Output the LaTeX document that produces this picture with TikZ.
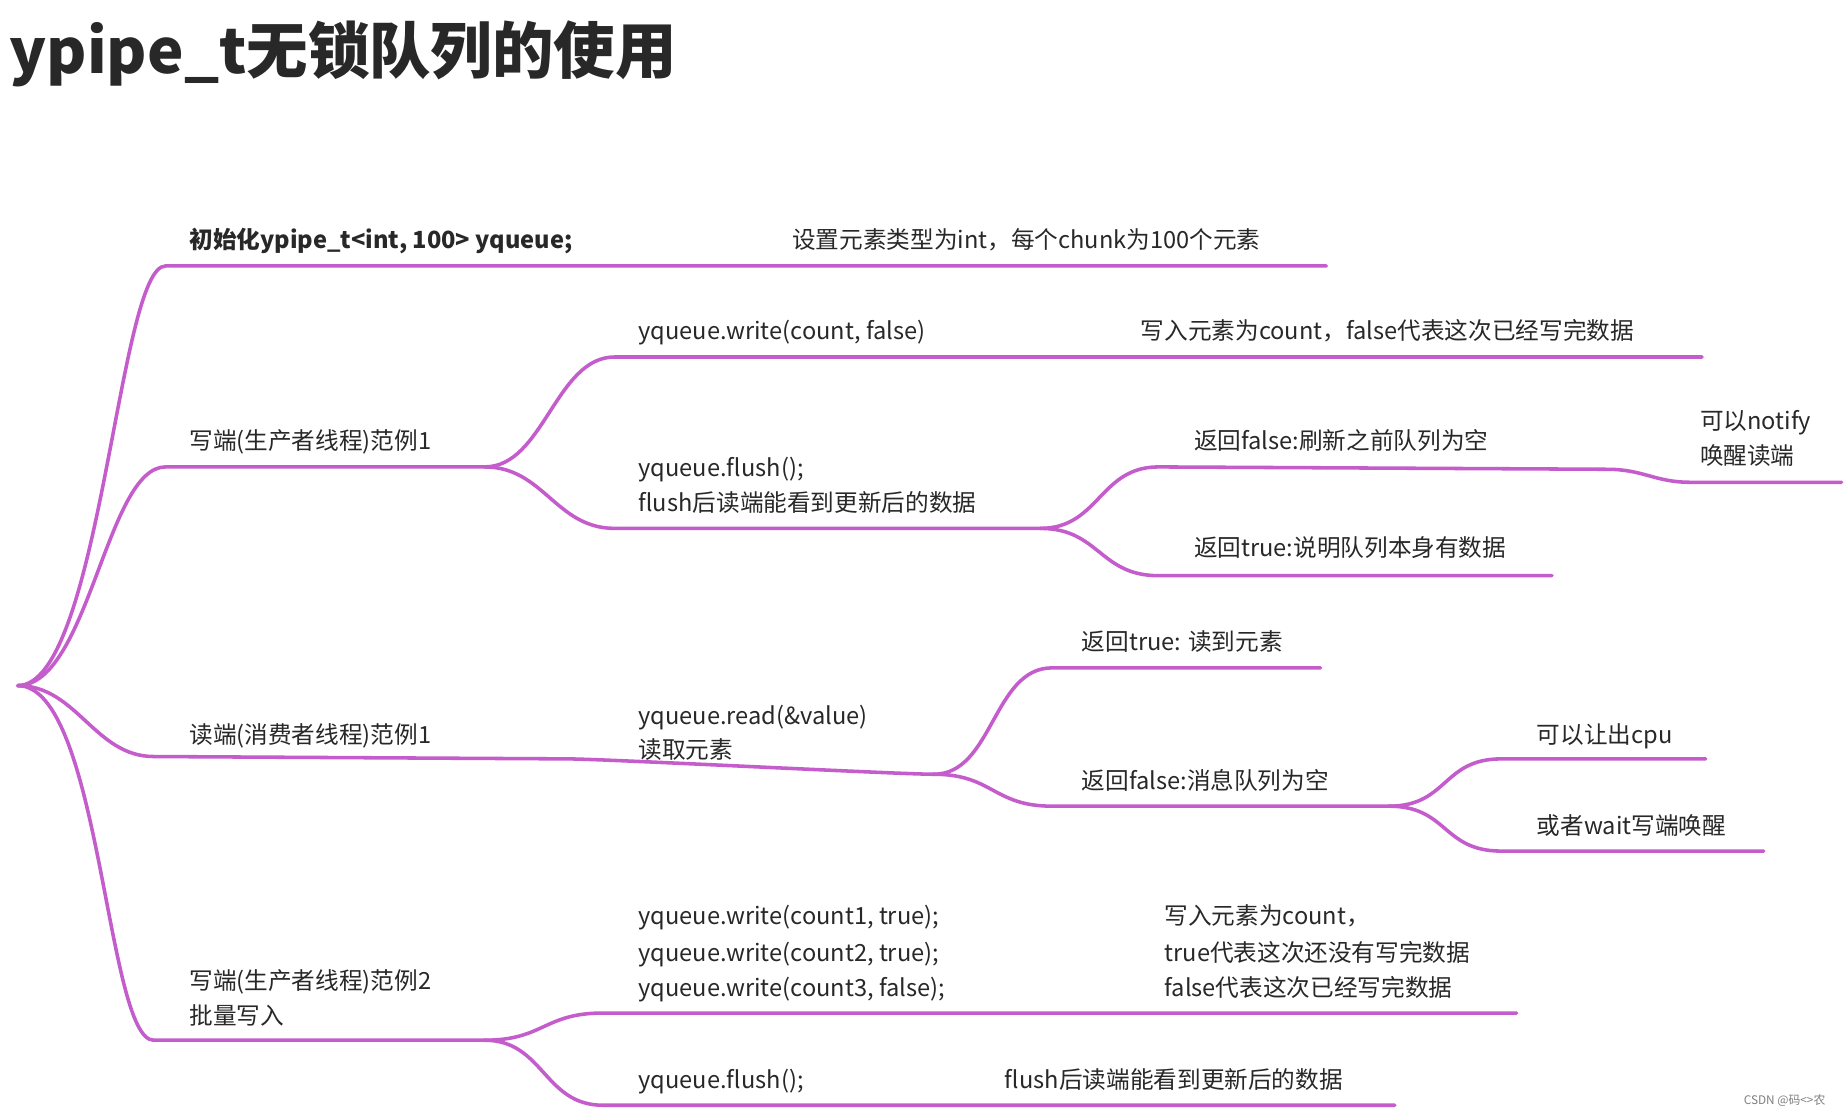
\documentclass[tikz,border=0pt]{standalone}
\usepackage{fontspec}
\setmainfont{Noto Sans CJK SC}
\usetikzlibrary{calc}
\definecolor{mapline}{RGB}{196,92,204}
\definecolor{txt}{RGB}{40,40,40}
\tikzset{
  branch/.style={draw=mapline,line width=3pt,line cap=round},
  lbl/.style={anchor=base west,inner sep=0pt,text=txt,font=\fontsize{20}{24}\selectfont},
}
\begin{document}
\begin{tikzpicture}[x=1pt,y=-1pt]
\useasboundingbox[fill=white] (0,0) rectangle (1560,940);
% title
\node[anchor=base west,inner sep=0pt,text=txt,font=\fontsize{52}{60}\selectfont\bfseries] (title) at (8,62) {ypipe\_t无锁队列的使用};
% coordinates of the map
\coordinate (root) at (15,580);
\coordinate (b1) at (140,225); \coordinate (b1e) at (1122,225);
\coordinate (b2) at (140,395); \coordinate (b2e) at (410,395);
\coordinate (b3) at (130,640); \coordinate (b3e) at (480,642);
\coordinate (b3f) at (790,655);
\coordinate (b4) at (130,880); \coordinate (b4e) at (410,880);
\coordinate (w1) at (520,302); \coordinate (w1e) at (1440,302);
\coordinate (w2) at (520,447); \coordinate (w2e) at (880,447);
\coordinate (f1) at (980,395); \coordinate (f1e) at (1360,397);
\coordinate (f1n) at (1430,408); \coordinate (f1m) at (1558,408);
\coordinate (f2) at (980,487); \coordinate (f2e) at (1313,487);
\coordinate (r1) at (890,565); \coordinate (r1e) at (1117,565);
\coordinate (r2) at (890,682); \coordinate (r2e) at (1175,682);
\coordinate (c1) at (1270,642); \coordinate (c1e) at (1443,642);
\coordinate (c2) at (1270,720); \coordinate (c2e) at (1492,720);
\coordinate (p1) at (510,857); \coordinate (p1e) at (1283,857);
\coordinate (p2) at (510,935); \coordinate (p2e) at (1180,935);
% branches from the root
\draw[branch] (root) .. controls +(70,0) and +(-40,0) .. (b1) -- (b1e);
\draw[branch] (root) .. controls +(60,0) and +(-50,0) .. (b2) -- (b2e);
\draw[branch] (root) .. controls +(50,0) and +(-50,0) .. (b3) -- (b3e) .. controls +(30,0) and +(-30,0) .. (b3f);
\draw[branch] (root) .. controls +(70,0) and +(-40,0) .. (b4) -- (b4e);
% write example 1
\draw[branch] (b2e) .. controls +(50,0) and +(-50,0) .. (w1) -- (w1e);
\draw[branch] (b2e) .. controls +(50,0) and +(-50,0) .. (w2) -- (w2e);
\draw[branch] (w2e) .. controls +(50,0) and +(-50,0) .. (f1) -- (f1e) .. controls +(30,0) and +(-30,0) .. (f1n) -- (f1m);
\draw[branch] (w2e) .. controls +(50,0) and +(-50,0) .. (f2) -- (f2e);
% read example
\draw[branch] (b3f) .. controls +(50,0) and +(-50,0) .. (r1) -- (r1e);
\draw[branch] (b3f) .. controls +(50,0) and +(-50,0) .. (r2) -- (r2e);
\draw[branch] (r2e) .. controls +(50,0) and +(-50,0) .. (c1) -- (c1e);
\draw[branch] (r2e) .. controls +(50,0) and +(-50,0) .. (c2) -- (c2e);
% write example 2
\draw[branch] (b4e) .. controls +(50,0) and +(-50,0) .. (p1) -- (p1e);
\draw[branch] (b4e) .. controls +(50,0) and +(-50,0) .. (p2) -- (p2e);
% labels
\node[lbl,font=\fontsize{20}{24}\selectfont\bfseries] (init) at (160,210) {初始化ypipe\_t<int, 100> yqueue;};
\node[lbl] (initc) at (670,210) {设置元素类型为int，每个chunk为100个元素};
\node[lbl] (wr1) at (160,380) {写端(生产者线程)范例1};
\node[lbl] (wcall) at (540,287) {yqueue.write(count, false)};
\node[lbl] (wcallc) at (965,287) {写入元素为count，false代表这次已经写完数据};
\node[lbl] (flush) at (540,403) {yqueue.flush();};
\node[lbl] (flushc) at (540,433) {flush后读端能看到更新后的数据};
\node[lbl] (rfalse) at (1010,380) {返回false:刷新之前队列为空};
\node[lbl] (notify) at (1438,363) {可以notify};
\node[lbl] (wake) at (1438,393) {唤醒读端};
\node[lbl] (rtrue) at (1010,471) {返回true:说明队列本身有数据};
\node[lbl] (rd) at (160,629) {读端(消费者线程)范例1};
\node[lbl] (read) at (540,613) {yqueue.read(\&value)};
\node[lbl] (readc) at (540,642) {读取元素};
\node[lbl] (gtrue) at (915,550) {返回true: 读到元素};
\node[lbl] (gfalse) at (915,668) {返回false:消息队列为空};
\node[lbl] (cpu) at (1300,629) {可以让出cpu};
\node[lbl] (wait) at (1300,706) {或者wait写端唤醒};
\node[lbl] (wr2) at (160,837) {写端(生产者线程)范例2};
\node[lbl] (batch) at (160,867) {批量写入};
\node[lbl] (bw1) at (540,782) {yqueue.write(count1, true);};
\node[lbl] (bw2) at (540,813) {yqueue.write(count2, true);};
\node[lbl] (bw3) at (540,843) {yqueue.write(count3, false);};
\node[lbl] (bc1) at (985,782) {写入元素为count，};
\node[lbl] (bc2) at (985,813) {true代表这次还没有写完数据};
\node[lbl] (bc3) at (985,843) {false代表这次已经写完数据};
\node[lbl] (flush2) at (540,921) {yqueue.flush();};
\node[lbl] (flush2c) at (850,921) {flush后读端能看到更新后的数据};
\node[lbl,text=gray,font=\fontsize{10}{12}\selectfont] (mark) at (1475,934) {CSDN @码<>农};
\end{tikzpicture}
\end{document}
